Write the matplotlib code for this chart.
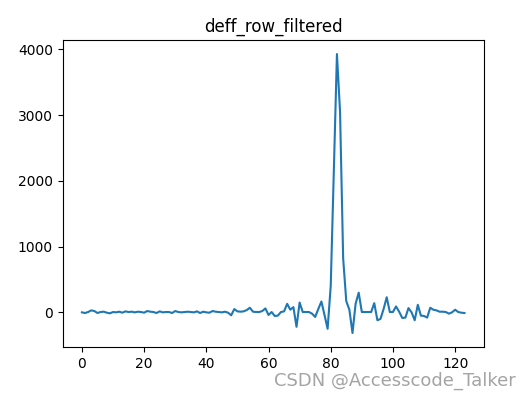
import matplotlib
matplotlib.use("Agg")
import matplotlib.pyplot as plt
import numpy as np

title = "deff_row_filtered"
values = [
    0, -10, 5, 30, 20, -10, 5, 10, -5, -15,
    5, 0, 10, -5, 15, 5, 10, 0, 10, 5,
    -5, 20, 10, 5, -10, 15, 0, 5, 5, -10,
    20, 5, 0, 5, 10, 5, 0, 15, -10, 10,
    0, -5, 20, 10, 5, 0, 10, -5, -45, 50,
    15, 10, 15, 35, 70, 10, 5, 5, 20, 60,
    -40, 5, -55, -50, 5, 15, 130, 40, 80, -220,
    150, 5, 5, 5, -20, -70, 50, 165, -40, -250,
    400, 2150, 3930, 3050, 820, 170, 40, -315, 130, 300,
    5, 5, 5, 5, 140, -120, -100, 50, 230, 5,
    5, 90, 10, -85, -80, 65, 0, -120, 115, -50,
    -55, -80, 70, 40, 30, 10, 10, 5, -20, 0,
    40, 5, -5, -10,
]
watermark = "CSDN @Accesscode_Talker"

fig = plt.figure(figsize=(5.32, 3.95), dpi=100)
ax = fig.add_axes([0.118, 0.1215, 0.791, 0.777])
ax.plot(np.arange(len(values)), values, color="#1f77b4", linewidth=1.5)
ax.set_title(title, fontsize=12)
ax.tick_params(labelsize=10)

fig.text(0.97, 0.036, watermark, ha="right", va="center", fontsize=13,
         color="#9a9a9a", alpha=0.9)

fig.savefig("out.png", dpi=100)
